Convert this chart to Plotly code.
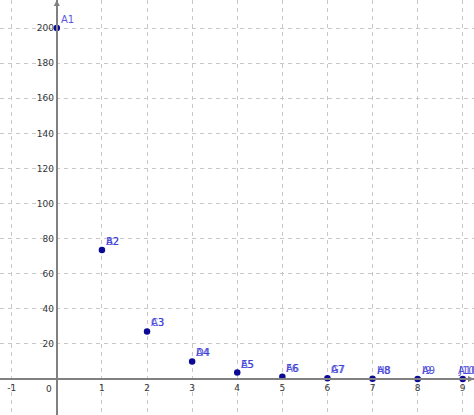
import plotly.graph_objects as go

# points A1..A10 and the overlapping second set B2..J10
x_vals = [0, 1, 2, 3, 4, 5, 6, 7, 8, 9]
y_vals = [200, 73.6, 27.1, 10.0, 3.7, 1.35, 0.5, 0.18, 0.07, 0.02]
labels_a = ["A1", "A2", "A3", "A4", "A5", "A6", "A7", "A8", "A9", "A10"]
labels_b = ["", "B2", "C3", "D4", "E5", "F6", "G7", "H8", "I9", "J10"]

x_ticks = [-1, 1, 2, 3, 4, 5, 6, 7, 8, 9]
y_ticks = [20, 40, 60, 80, 100, 120, 140, 160, 180, 200]

X_RANGE = [-1.26, 9.25]
Y_RANGE = [-20.5, 216]

point_color = "#0a0a96"
label_color = "#3a3ad8"
grid_color = "#c8c8c8"
axis_color = "#808080"
tick_font = dict(family="DejaVu Sans, Arial", size=9, color="#333")

fig = go.Figure()
fig.add_trace(go.Scatter(
    x=x_vals, y=y_vals,
    mode="markers",
    marker=dict(color=point_color, size=6.5),
    hoverinfo="skip",
    showlegend=False,
))

annotations = []
for lab_set in (labels_a, labels_b):
    for x, y, t in zip(x_vals, y_vals, lab_set):
        if not t:
            continue
        # the last label is pulled left to stay inside the view, as GeoGebra does
        shift = -7 if x == x_vals[-1] else 2
        annotations.append(dict(
            x=x, y=y, text=t, showarrow=False,
            xanchor="left", yanchor="bottom", xshift=shift, yshift=1,
            font=dict(family="DejaVu Sans, Arial", size=10, color=label_color),
            opacity=0.85,
        ))

# origin label
annotations.append(dict(
    x=0, y=0, text="0", showarrow=False,
    xanchor="right", yanchor="top", xshift=-3, yshift=-3,
    font=tick_font,
))

# axis arrows
annotations.append(dict(
    x=0, y=Y_RANGE[1], ax=0, ay=12, xref="x", yref="y", axref="pixel", ayref="pixel",
    text="", showarrow=True, arrowhead=2, arrowsize=0.8, arrowwidth=1.5,
    arrowcolor=axis_color,
))
annotations.append(dict(
    x=X_RANGE[1], y=0, ax=-12, ay=0, xref="x", yref="y", axref="pixel", ayref="pixel",
    text="", showarrow=True, arrowhead=2, arrowsize=0.8, arrowwidth=1.5,
    arrowcolor=axis_color,
))

x_pos = (0 - Y_RANGE[0]) / (Y_RANGE[1] - Y_RANGE[0])
y_pos = (0 - X_RANGE[0]) / (X_RANGE[1] - X_RANGE[0])

fig.update_layout(
    width=474, height=415,
    margin=dict(l=0, r=0, t=0, b=0, autoexpand=False),
    plot_bgcolor="white",
    paper_bgcolor="white",
    annotations=annotations,
    xaxis=dict(
        range=X_RANGE,
        tickvals=x_ticks + [0],
        ticktext=[str(v) for v in x_ticks] + [""],
        ticks="", showgrid=True, gridcolor=grid_color, griddash="4px,4px", gridwidth=1,
        zeroline=False, showline=True, linecolor=axis_color, linewidth=2,
        anchor="free", position=x_pos, automargin=False,
        tickfont=tick_font,
        fixedrange=True,
    ),
    yaxis=dict(
        range=Y_RANGE,
        tickvals=y_ticks,
        ticktext=[str(v) for v in y_ticks],
        ticks="", showgrid=True, gridcolor=grid_color, griddash="4px,4px", gridwidth=1,
        zeroline=False, showline=True, linecolor=axis_color, linewidth=2,
        anchor="free", position=y_pos, automargin=False,
        tickfont=tick_font,
        fixedrange=True,
    ),
)

# page body has a default 8px margin; remove it so the figure sits at the corner
fig.write_html("out.html", post_script="document.body.style.margin='0';",
               config={"displayModeBar": False})
